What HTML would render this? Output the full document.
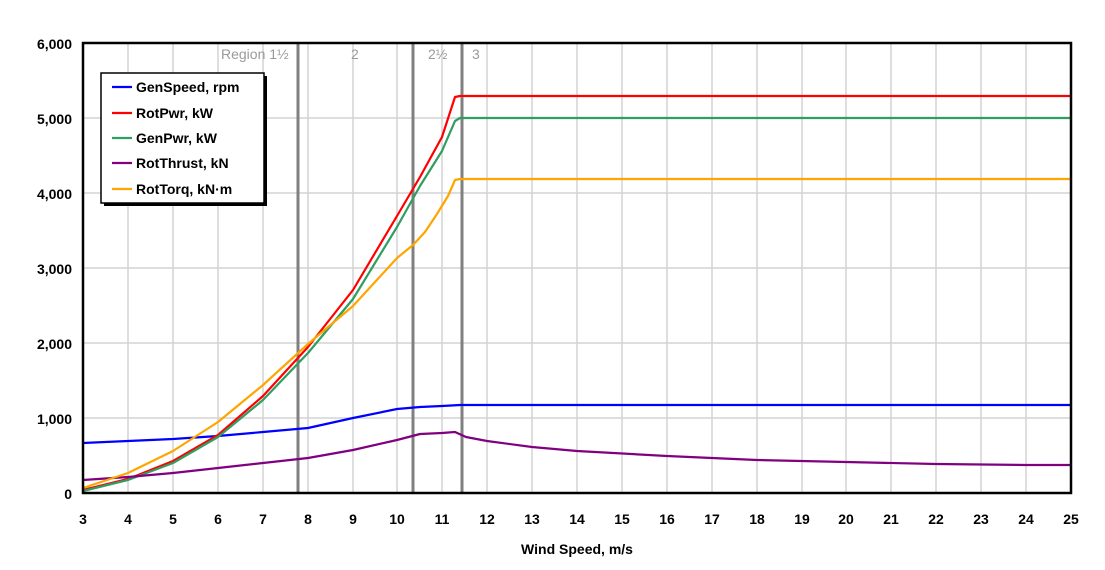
<!DOCTYPE html>
<html><head><style>body{margin:0;background:#fff}svg{display:block;font-family:"Liberation Sans",Arial,sans-serif}</style></head><body>
<svg width="1105" height="570" viewBox="0 0 1105 570">
<g stroke="#d4d4d4" stroke-width="1.5">
<line x1="128" y1="43" x2="128" y2="493"/><line x1="173" y1="43" x2="173" y2="493"/><line x1="218" y1="43" x2="218" y2="493"/><line x1="263" y1="43" x2="263" y2="493"/><line x1="308" y1="43" x2="308" y2="493"/><line x1="353" y1="43" x2="353" y2="493"/><line x1="397" y1="43" x2="397" y2="493"/><line x1="442" y1="43" x2="442" y2="493"/><line x1="487" y1="43" x2="487" y2="493"/><line x1="532" y1="43" x2="532" y2="493"/><line x1="577" y1="43" x2="577" y2="493"/><line x1="622" y1="43" x2="622" y2="493"/><line x1="667" y1="43" x2="667" y2="493"/><line x1="712" y1="43" x2="712" y2="493"/><line x1="757" y1="43" x2="757" y2="493"/><line x1="802" y1="43" x2="802" y2="493"/><line x1="846" y1="43" x2="846" y2="493"/><line x1="891" y1="43" x2="891" y2="493"/><line x1="936" y1="43" x2="936" y2="493"/><line x1="981" y1="43" x2="981" y2="493"/><line x1="1026" y1="43" x2="1026" y2="493"/>
<line x1="83" y1="418" x2="1071" y2="418"/><line x1="83" y1="343" x2="1071" y2="343"/><line x1="83" y1="268" x2="1071" y2="268"/><line x1="83" y1="193" x2="1071" y2="193"/><line x1="83" y1="118" x2="1071" y2="118"/>
</g>
<g stroke="#808080" stroke-width="3"><line x1="298" y1="43" x2="298" y2="493"/><line x1="413" y1="43" x2="413" y2="493"/><line x1="462" y1="43" x2="462" y2="493"/></g>
<g font-size="14" fill="#9a9a9a"><text x="221" y="59">Region 1½</text><text x="351" y="59">2</text><text x="428" y="59">2½</text><text x="472" y="59">3</text></g>
<g fill="none" stroke-width="2.2" stroke-linejoin="round">
<polyline stroke="#0000ff" points="83,443 128,441 173,439 218,436 263,432 308,428 353,418 397,409 420,407 442,406 460,405 1071,405"/>
<polyline stroke="#ff0000" points="83,490 128,479 173,461 218,435 263,396 308,347 353,290 397,216 420,177 442,137 455,97 460,96 1071,96"/>
<polyline stroke="#2e9e62" points="83,491 128,480 173,463 218,437 263,400 308,353 353,299 397,227 420,186 442,151 455,121 460,118 1071,118"/>
<polyline stroke="#800080" points="83,480 128,477 173,473 218,468 263,463 308,458 353,450 397,440 420,434 442,433 455,432 466,437 487,441 532,447 577,451 667,456 757,460 846,462 936,464 1026,465 1071,465"/>
<polyline stroke="#ffa500" points="83,488 128,473 173,451 218,422 263,385 308,344 353,306 397,258 413,245 425,232 437,214 448,196 455,180 460,179 1071,179"/>
</g>
<rect x="83" y="43" width="988" height="450" fill="none" stroke="#000" stroke-width="2.5"/>
<g font-size="14" font-weight="bold" text-anchor="end"><text x="72" y="49">6,000</text><text x="72" y="124">5,000</text><text x="72" y="199">4,000</text><text x="72" y="274">3,000</text><text x="72" y="349">2,000</text><text x="72" y="424">1,000</text><text x="72" y="499">0</text></g>
<g font-size="14" font-weight="bold" text-anchor="middle"><text x="83" y="524">3</text><text x="128" y="524">4</text><text x="173" y="524">5</text><text x="218" y="524">6</text><text x="263" y="524">7</text><text x="308" y="524">8</text><text x="353" y="524">9</text><text x="397" y="524">10</text><text x="442" y="524">11</text><text x="487" y="524">12</text><text x="532" y="524">13</text><text x="577" y="524">14</text><text x="622" y="524">15</text><text x="667" y="524">16</text><text x="712" y="524">17</text><text x="757" y="524">18</text><text x="802" y="524">19</text><text x="846" y="524">20</text><text x="891" y="524">21</text><text x="936" y="524">22</text><text x="981" y="524">23</text><text x="1026" y="524">24</text><text x="1071" y="524">25</text>
<text x="577" y="554">Wind Speed, m/s</text></g>
<rect x="104" y="76" width="163" height="130" fill="#000"/>
<rect x="101" y="73" width="163" height="130" fill="#fff" stroke="#000" stroke-width="1.5"/>
<g stroke-width="2.2"><line x1="112" y1="87" x2="132" y2="87" stroke="#0000ff"/><line x1="112" y1="113" x2="132" y2="113" stroke="#ff0000"/><line x1="112" y1="138" x2="132" y2="138" stroke="#2e9e62"/><line x1="112" y1="163" x2="132" y2="163" stroke="#800080"/><line x1="112" y1="189" x2="132" y2="189" stroke="#ffa500"/></g>
<g font-size="14" font-weight="bold"><text x="136" y="92">GenSpeed, rpm</text><text x="136" y="118">RotPwr, kW</text><text x="136" y="143">GenPwr, kW</text><text x="136" y="168">RotThrust, kN</text><text x="136" y="194">RotTorq, kN·m</text></g>
</svg>
</body></html>
